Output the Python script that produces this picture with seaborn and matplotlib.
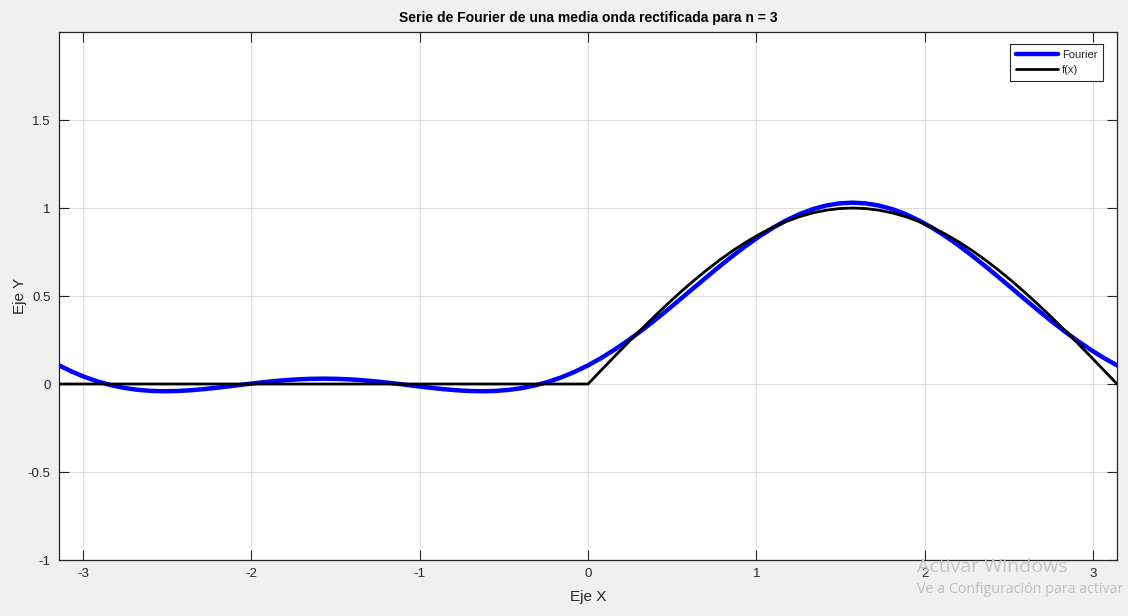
import matplotlib
matplotlib.use("Agg")
import matplotlib.pyplot as plt
import seaborn as sns
import pandas as pd

# sample positions (x) and values
x_vals = [-3.1416, -3.0631, -2.9845, -2.9060, -2.8274, -2.7489, -2.6704, -2.5918,
          -2.5133, -2.4347, -2.3562, -2.2777, -2.1991, -2.1206, -2.0420, -1.9635,
          -1.8850, -1.8064, -1.7279, -1.6493, -1.5708, -1.4923, -1.4137, -1.3352,
          -1.2566, -1.1781, -1.0996, -1.0210, -0.9425, -0.8639, -0.7854, -0.7069,
          -0.6283, -0.5498, -0.4712, -0.3927, -0.3142, -0.2356, -0.1571, -0.0785,
          0.0,
          0.0785, 0.1571, 0.2356, 0.3142, 0.3927, 0.4712, 0.5498, 0.6283,
          0.7069, 0.7854, 0.8639, 0.9425, 1.0210, 1.0996, 1.1781, 1.2566,
          1.3352, 1.4137, 1.4923, 1.5708, 1.6493, 1.7279, 1.8064, 1.8850,
          1.9635, 2.0420, 2.1206, 2.1991, 2.2777, 2.3562, 2.4347, 2.5133,
          2.5918, 2.6704, 2.7489, 2.8274, 2.9060, 2.9845, 3.0631, 3.1416]
fourier_vals = [0.1061, 0.0695, 0.0383, 0.0125, -0.0079, -0.0231, -0.0334, -0.0393,
                -0.0412, -0.0396, -0.0352, -0.0287, -0.0206, -0.0117, -0.0025, 0.0064,
                0.0145, 0.0212, 0.0263, 0.0295, 0.0305, 0.0295, 0.0263, 0.0212,
                0.0145, 0.0064, -0.0025, -0.0117, -0.0206, -0.0287, -0.0352, -0.0396,
                -0.0412, -0.0393, -0.0334, -0.0231, -0.0079, 0.0125, 0.0383, 0.0695,
                0.1061,
                0.1479, 0.1947, 0.2460, 0.3011, 0.3596, 0.4206, 0.4832, 0.5466,
                0.6098, 0.6719, 0.7317, 0.7884, 0.8410, 0.8886, 0.9303, 0.9655,
                0.9936, 1.0140, 1.0264, 1.0305, 1.0264, 1.0140, 0.9936, 0.9655,
                0.9303, 0.8886, 0.8410, 0.7884, 0.7317, 0.6719, 0.6098, 0.5466,
                0.4832, 0.4206, 0.3596, 0.3011, 0.2460, 0.1947, 0.1479, 0.1061]
fx_vals = [0, 0, 0, 0, 0, 0, 0, 0, 0, 0, 0, 0, 0, 0, 0, 0, 0, 0, 0, 0,
           0, 0, 0, 0, 0, 0, 0, 0, 0, 0, 0, 0, 0, 0, 0, 0, 0, 0, 0, 0,
           0,
           0.0785, 0.1564, 0.2334, 0.3090, 0.3827, 0.4540, 0.5225, 0.5878,
           0.6494, 0.7071, 0.7604, 0.8090, 0.8526, 0.8910, 0.9239, 0.9511,
           0.9724, 0.9877, 0.9969, 1.0000, 0.9969, 0.9877, 0.9724, 0.9511,
           0.9239, 0.8910, 0.8526, 0.8090, 0.7604, 0.7071, 0.6494, 0.5878,
           0.5225, 0.4540, 0.3827, 0.3090, 0.2334, 0.1564, 0.0785, 0.0]
x_ticks = [-3, -2, -1, 0, 1, 2, 3]
y_ticks = [-1, -0.5, 0, 0.5, 1, 1.5]
y_tick_labels = ["-1", "-0.5", "0", "0.5", "1", "1.5"]

sns.set_theme(style="white")
plt.rcParams['font.family'] = ['Liberation Sans', 'DejaVu Sans']

fig = plt.figure(figsize=(11.28, 6.16), dpi=100, facecolor="#f0f0f0")
ax = fig.add_axes([0.0523, 0.0909, 0.9380, 0.8571])
ax.set_facecolor("white")

df_f = pd.DataFrame({"x": x_vals, "y": fourier_vals})
df_g = pd.DataFrame({"x": x_vals, "y": fx_vals})
sns.lineplot(data=df_f, x="x", y="y", ax=ax, color="#0000ff", linewidth=3.2,
             label="Fourier", zorder=3)
sns.lineplot(data=df_g, x="x", y="y", ax=ax, color="black", linewidth=2.0,
             label="f(x)", zorder=4)

ax.set_xlim(-3.1416, 3.1416)
ax.set_ylim(-1, 2)
ax.set_xticks(x_ticks)
ax.set_xticklabels([str(t) for t in x_ticks])
ax.set_yticks(y_ticks)
ax.set_yticklabels(y_tick_labels)
ax.grid(True, color="#dcdcdc", linewidth=0.8)
ax.set_axisbelow(True)
for s in ax.spines.values():
    s.set_visible(True)
    s.set_color("#262626")
    s.set_linewidth(0.9)
ax.tick_params(direction="in", length=7, width=0.8, color="#262626",
               top=True, right=True, bottom=True, left=True,
               labelsize=9.5, labelcolor="#262626", pad=6)

ax.set_xlabel("Eje X", fontsize=11, color="#262626")
ax.set_ylabel("Eje Y", fontsize=11, color="#262626")
ax.yaxis.set_label_coords(-0.030, 0.5)
ax.xaxis.set_label_coords(0.5, -0.057)
ax.set_title("Serie de Fourier de una media onda rectificada para n = 3",
             fontsize=10, fontweight="bold", color="black", pad=7)

leg = ax.legend(loc="upper right", fontsize=8, frameon=True, fancybox=False,
                edgecolor="#262626", framealpha=1, handlelength=3.8,
                borderpad=0.55, labelspacing=0.45, handletextpad=0.3,
                borderaxespad=0, bbox_to_anchor=(0.987, 0.977))
leg.get_frame().set_linewidth(0.8)

fig.text(0.813, 0.072, "Activar Windows", fontsize=14, color="#c4c4c4",
         family=["Open Sans", "DejaVu Sans"], ha="left", va="baseline")
fig.text(0.813, 0.037, "Ve a Configuración para activar", fontsize=10.3,
         color="#c0c0c0", family=["Open Sans", "DejaVu Sans"], ha="left",
         va="baseline")

fig.savefig("out.png", dpi=100, facecolor=fig.get_facecolor())
